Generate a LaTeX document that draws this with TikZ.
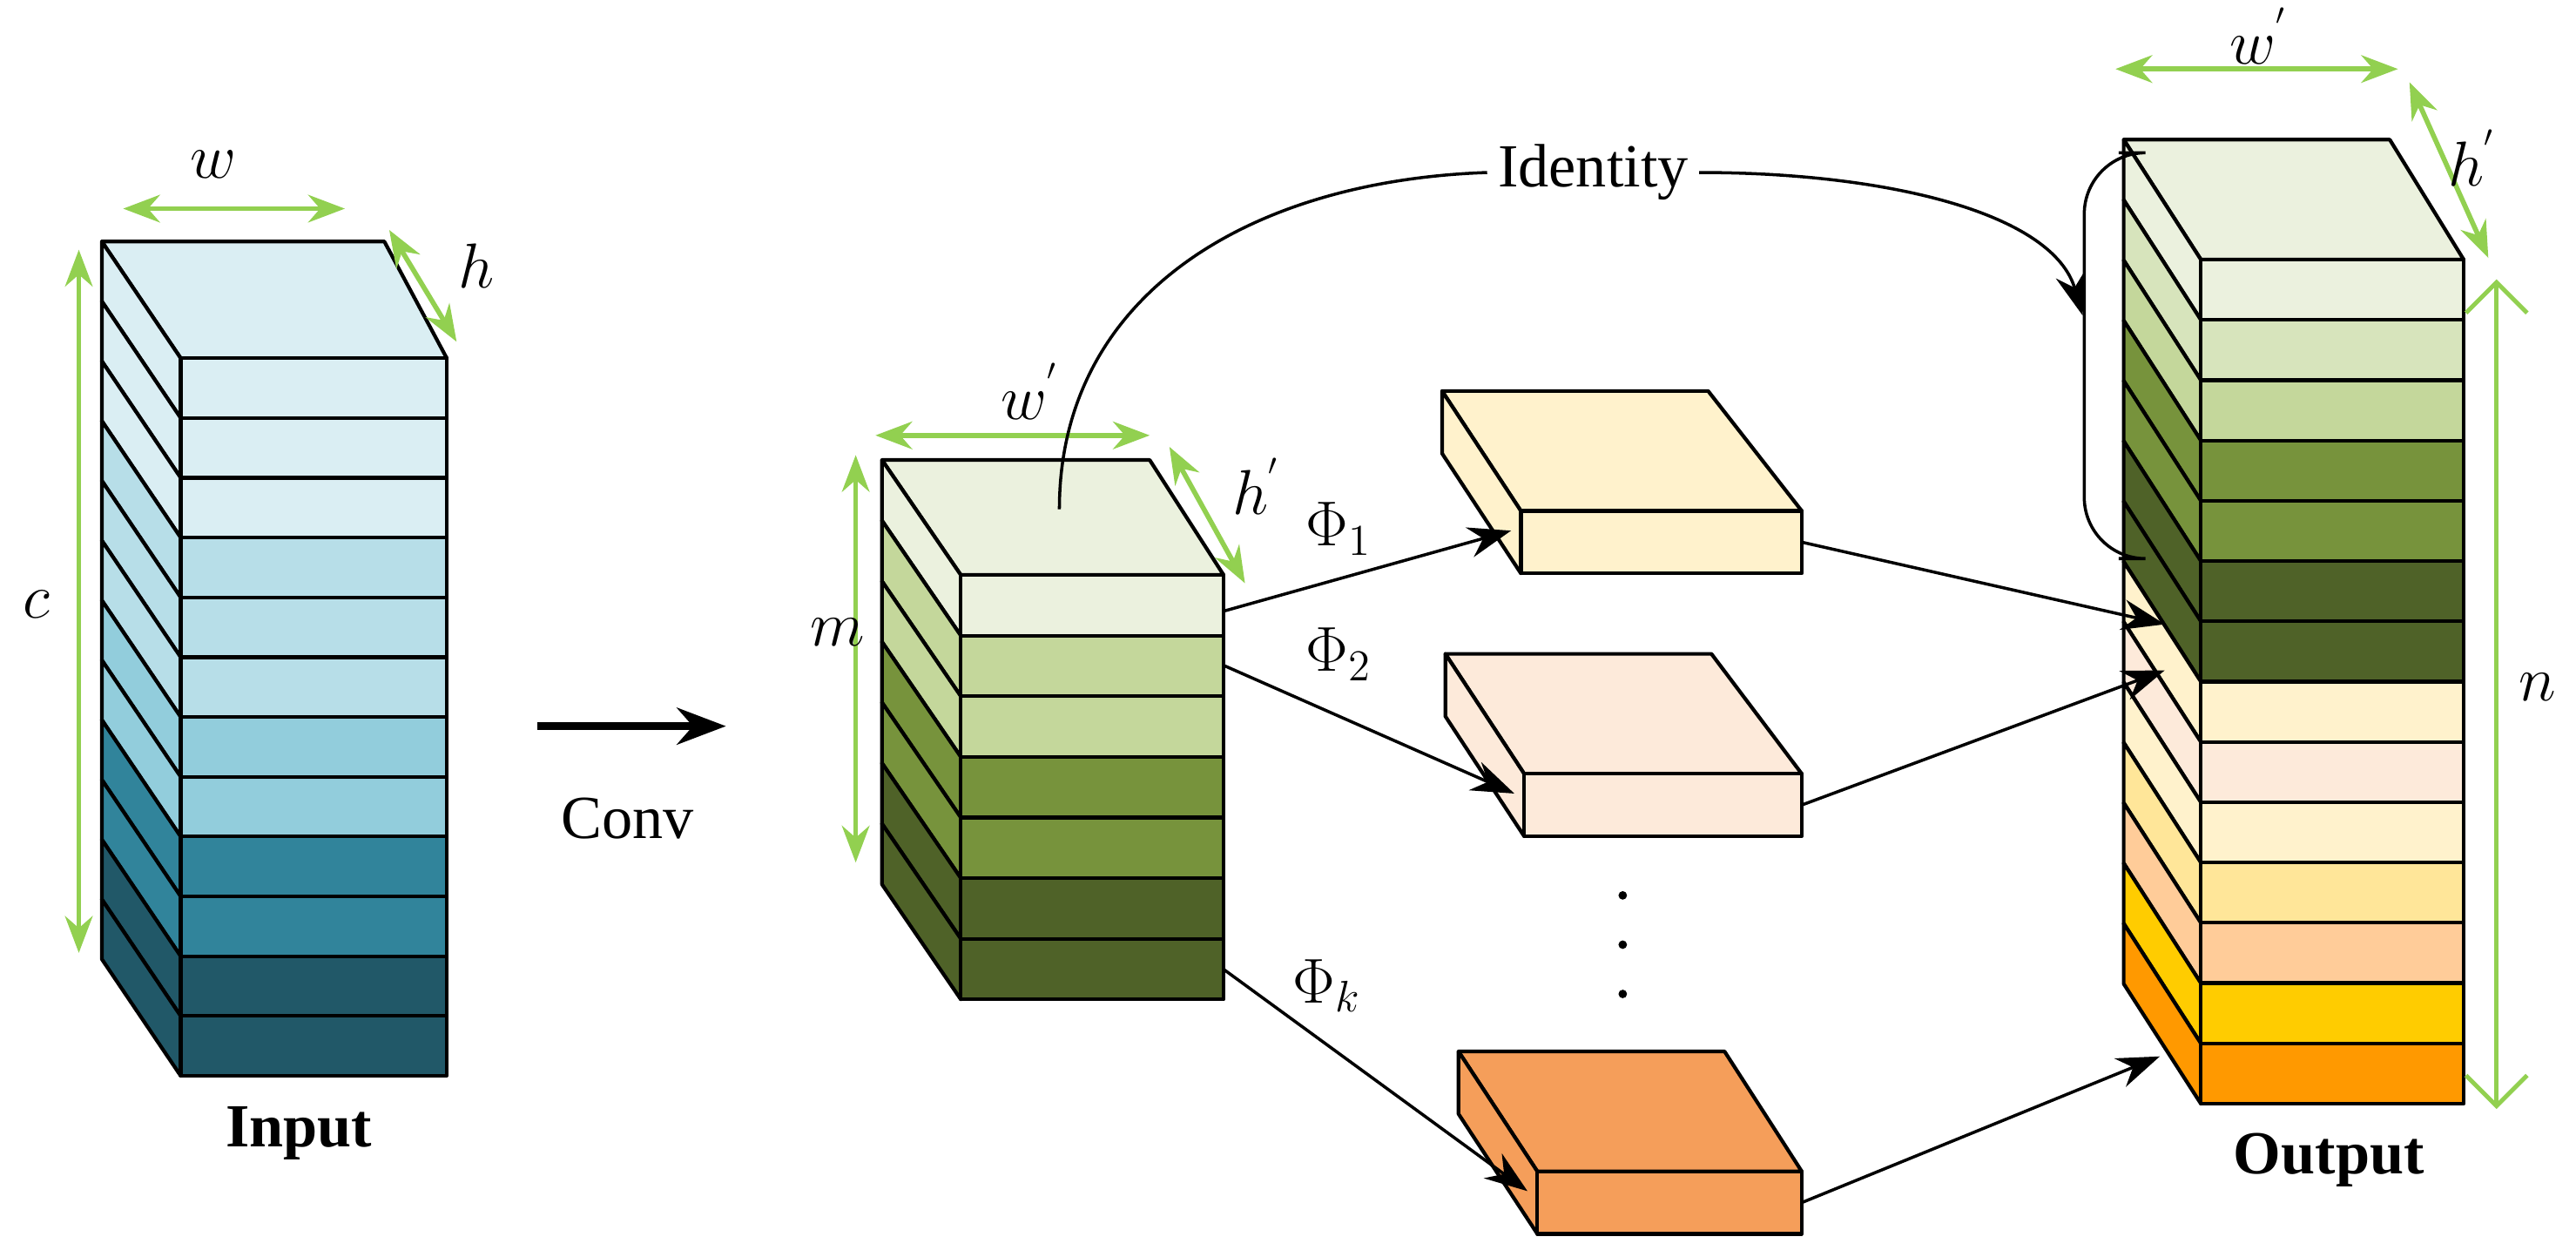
\documentclass[tikz,border=0pt]{standalone}
\usepackage{fontspec}
\setmainfont{Liberation Serif}
\usetikzlibrary{arrows.meta}
\definecolor{dimg}{HTML}{92D050}
\definecolor{bA}{HTML}{DAEEF3}\definecolor{bB}{HTML}{B7DEE8}\definecolor{bC}{HTML}{92CDDC}
\definecolor{bD}{HTML}{31849B}\definecolor{bE}{HTML}{215868}
\definecolor{gA}{HTML}{EBF1DE}\definecolor{gB}{HTML}{D7E4BC}\definecolor{gC}{HTML}{C4D79B}
\definecolor{gD}{HTML}{77933C}\definecolor{gE}{HTML}{4F6228}
\definecolor{yA}{HTML}{FFF2CC}\definecolor{yB}{HTML}{FDEADA}\definecolor{yC}{HTML}{FFE699}
\definecolor{yD}{HTML}{FFCC99}\definecolor{yE}{HTML}{FFCC00}\definecolor{yF}{HTML}{FF9900}
\definecolor{oK}{HTML}{F59E5A}
\tikzset{
  face/.style={draw=black, line width=1.2pt, line join=round},
  dim/.style={dimg, line width=1.6pt, {Stealth[length=12pt,width=9pt]}-{Stealth[length=12pt,width=9pt]}},
  flow/.style={black, line width=1pt, -{Stealth[length=14pt,width=10pt]}},
  lbl/.style={font=\fontsize{20}{24}\selectfont},
}
\begin{document}
\begin{tikzpicture}[x=0.01886cm, y=-0.01886cm]
\useasboundingbox (0,0) rectangle (1568.4,765);

% ---------- input stack
\filldraw[face, fill=bA] (62,147) -- (234,147) -- (272,218) -- (110,218) -- cycle;
\foreach \c [count=\i from 0] in {bA,bA,bA,bB,bB,bB,bC,bC,bD,bD,bE,bE} {
  \pgfmathsetmacro{\ya}{218+\i*36.4}
  \pgfmathsetmacro{\yb}{218+(\i+1)*36.4}
  \filldraw[face, fill=\c] (62,\ya-71) -- (110,\ya) -- (110,\yb) -- (62,\yb-71) -- cycle;
  \filldraw[face, fill=\c] (110,\ya) rectangle (272,\yb);
}
\draw[dim] (75,127) -- (210,127);
\draw[dim] (237,140) -- (278,208);
\draw[dim] (48,152) -- (48,580);
\node[lbl] (lw) at (130,100) {$w$};
\node[lbl] (lh) at (290,162) {$h$};
\node[lbl] (lc) at (22,368) {$c$};
\node[lbl, font=\fontsize{20}{24}\selectfont\bfseries] (inlbl) at (182,690) {Input};

% ---------- conv arrow
\coordinate (cs) at (327,442);
\coordinate (ce) at (442,442);
\draw[line width=2.5pt, -{Stealth[length=16pt,width=12pt]}] (cs) -- (ce);
\node[lbl] (conv) at (382,498) {Conv};

% ---------- intrinsic stack
\filldraw[face, fill=gA] (537,280) -- (700,280) -- (745,350) -- (585,350) -- cycle;
\foreach \c [count=\i from 0] in {gA,gC,gC,gD,gD,gE,gE} {
  \pgfmathsetmacro{\ya}{350+\i*36.9}
  \pgfmathsetmacro{\yb}{350+(\i+1)*36.9}
  \filldraw[face, fill=\c] (537,\ya-70) -- (585,\ya) -- (585,\yb) -- (537,\yb-70) -- cycle;
  \filldraw[face, fill=\c] (585,\ya) rectangle (745,\yb);
}
\draw[dim] (533,265) -- (700,265);
\draw[dim] (712,272) -- (758,355);
\draw[dim] (521,277) -- (521,525);
\node[lbl] (lw2) at (627,238) {$w^{'}$};
\node[lbl] (lh2) at (765,296) {$h^{'}$};
\node[lbl] (lm) at (510,385) {$m$};

% ---------- slabs
\foreach \xb/\yt/\c in {878/238/yA, 880/398/yB, 888/640/oK} {
  \pgfmathsetmacro{\xf}{\xb+48}
  \pgfmathsetmacro{\yf}{\yt+73}
  \filldraw[face, fill=\c] (\xb,\yt) -- (\xb+162,\yt) -- (1097,\yf) -- (\xf,\yf) -- cycle;
  \filldraw[face, fill=\c] (\xb,\yt) -- (\xf,\yf) -- (\xf,\yf+38) -- (\xb,\yt+38) -- cycle;
  \filldraw[face, fill=\c] (\xf,\yf) rectangle (1097,\yf+38);
}
\coordinate (s1in) at (920,323);
\coordinate (s2in) at (922,483);
\coordinate (skin) at (930,725);
\coordinate (s1out) at (1097,330);
\coordinate (s2out) at (1097,490);
\coordinate (skout) at (1097,732);
\node[lbl] (p1) at (815,322) {$\Phi_1$};
\node[lbl] (p2) at (815,398) {$\Phi_2$};
\node[lbl] (pk) at (808,600) {$\Phi_k$};
\foreach \y in {545,575,605} \fill (988,\y) circle (2.6);

% ---------- output stack
\filldraw[face, fill=gA] (1293,85) -- (1455,85) -- (1500,158) -- (1340,158) -- cycle;
\foreach \c [count=\i from 0] in {gA,gB,gC,gD,gD,gE,gE,yA,yB,yA,yC,yD,yE,yF} {
  \pgfmathsetmacro{\ya}{158+\i*36.7}
  \pgfmathsetmacro{\yb}{158+(\i+1)*36.7}
  \filldraw[face, fill=\c] (1293,\ya-73) -- (1340,\ya) -- (1340,\yb) -- (1293,\yb-73) -- cycle;
  \filldraw[face, fill=\c] (1340,\ya) rectangle (1500,\yb);
}
\draw[dim] (1288,42) -- (1460,42);
\draw[dim] (1467,50) -- (1515,157);
\draw[dimg, line width=1.4pt, {Straight Barb[length=10pt,width=20pt]}-{Straight Barb[length=10pt,width=20pt]}] (1520,170) -- (1520,675);
\node[lbl] (lw3) at (1375,22) {$w^{'}$};
\node[lbl] (lh3) at (1505,96) {$h^{'}$};
\node[lbl] (ln) at (1545,418) {$n$};
\node[lbl, font=\fontsize{20}{24}\selectfont\bfseries] (outlbl) at (1418,706) {Output};

% ---------- connectors
\coordinate (m1) at (745,372);
\coordinate (m2) at (745,405);
\coordinate (mk) at (745,590);
\coordinate (o1) at (1318,380);
\coordinate (o2) at (1318,408);
\coordinate (ok) at (1315,643);
\draw[flow] (m1) -- (s1in);
\draw[flow] (m2) -- (s2in);
\draw[flow] (mk) -- (skin);
\draw[flow] (s1out) -- (o1);
\draw[flow] (s2out) -- (o2);
\draw[flow] (skout) -- (ok);

% ---------- identity
\node[lbl] (id) at (970,105) {Identity};
\coordinate (idst) at (645,310);
\coordinate (idend) at (1268,192);
\draw[line width=1pt] (idst) .. controls (645,180) and (760,110) .. (id.west);
\draw[flow] (id.east) .. controls (1150,105) and (1250,130) .. (idend);
\draw[line width=1pt, rounded corners=20] (1290,93) -- (1269,93) -- (1269,340) -- (1290,340);
\end{tikzpicture}
\end{document}
